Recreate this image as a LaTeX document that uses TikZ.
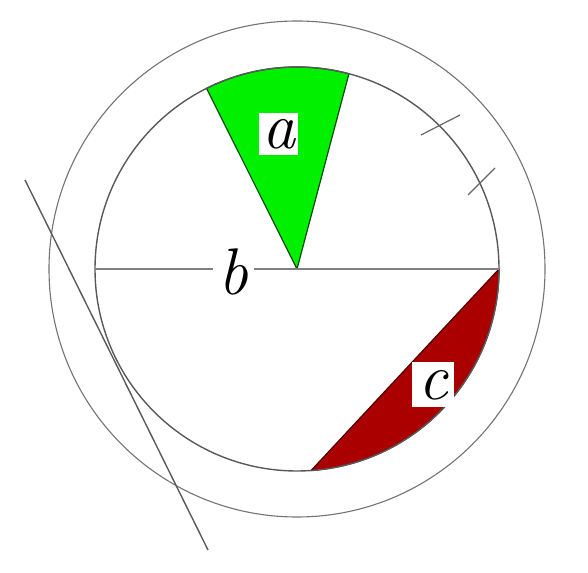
\documentclass[tikz,border=0pt]{standalone}
\usetikzlibrary{calc}
\definecolor{sectorgreen}{HTML}{00F000}
\definecolor{segred}{HTML}{AA0000}
\tikzset{
  circleline/.style={draw=black!65, line width=1.4pt},
  outerline/.style={draw=black!55, line width=1.1pt},
  greensector/.style={fill=sectorgreen, draw=black!70!green, line width=1.2pt, line join=round},
  redsegment/.style={fill=segred, draw=black!70!red, line width=1.2pt, line join=round},
  diamline/.style={draw=black!50, line width=2.6pt},
  tickmark/.style={draw=black!60, line width=1.2pt},
  tangentline/.style={draw=black!65, line width=1.4pt},
  lbl/.style={fill=white, inner sep=0pt, font=\fontsize{66}{66}\selectfont\itshape}
}
\begin{document}
\begin{tikzpicture}[x=1pt,y=1pt]
\useasboundingbox (0,0) rectangle (588,572);
\coordinate (C) at (297,303);
% outer circle
\draw[outerline] (297,303) circle[radius=248];
% green sector
\path[greensector] (C) -- ($(C)+(116.6:202)$) arc[start angle=116.6, end angle=75.1, radius=202] -- cycle;
% red segment
\path[redsegment] ($(C)+(-86:202)$) arc[start angle=-86, end angle=0, radius=202] -- cycle;
% inner circle
\draw[circleline] (C) circle[radius=202];
% diameter line
\coordinate (L) at ($(C)+(180:202)$);
\coordinate (R) at ($(C)+(0:202)$);
\draw[diamline] (L) -- (R);
% tick marks
\coordinate (t1a) at (421,437); \coordinate (t1b) at (460,457);
\coordinate (t2a) at (468,377); \coordinate (t2b) at (495,404);
\draw[tickmark] (t1a) -- (t1b);
\draw[tickmark] (t2a) -- (t2b);
% tangent line
\coordinate (T1) at (25,392); \coordinate (T2) at (208,22);
\draw[tangentline] (T1) -- (T2);
% labels
\node[lbl, minimum width=39pt, minimum height=42pt] (la) at (278.5,438) {a};
\node[lbl, minimum width=41pt, minimum height=8pt] (lb) at (233,300.5) {b};
\node[lbl, minimum width=42pt, minimum height=45pt] (lc) at (433,187) {c};
\end{tikzpicture}
\end{document}
